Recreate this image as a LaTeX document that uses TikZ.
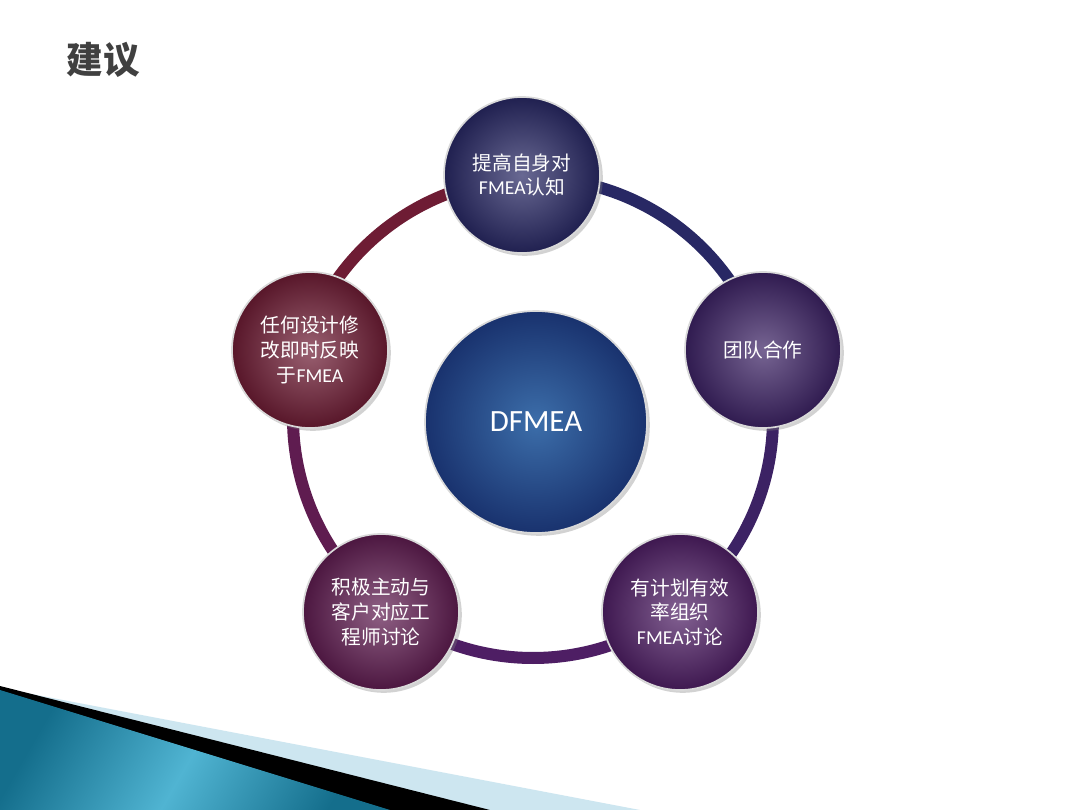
\documentclass[tikz,border=0pt]{standalone}
\usepackage{fontspec}
\setmainfont{Carlito}
\newfontfamily\cjk{Noto Sans CJK SC}
\usetikzlibrary{shadows}
\definecolor{rA}{RGB}{110,28,52}
\definecolor{rB}{RGB}{40,40,100}
\definecolor{rC}{RGB}{60,34,100}
\definecolor{rD}{RGB}{78,30,100}
\definecolor{rE}{RGB}{95,28,80}
\definecolor{tealD}{RGB}{20,110,140}
\definecolor{tealL}{RGB}{80,180,210}
\definecolor{paleB}{RGB}{205,230,240}
\begin{document}
\begin{tikzpicture}[x=0.025cm,y=-0.025cm,
  ball/.style={circle,minimum size=156*0.025cm,draw=white!85!black,line width=1.2pt,
    text=white,font=\cjk\fontsize{14}{17.5}\selectfont,align=center,
    drop shadow={opacity=0.35,shadow xshift=2pt,shadow yshift=-2pt}},
  ring/.style={line width=12*0.025cm}]
\useasboundingbox (0,0) rectangle (1080,810);
\fill[white] (0,0) rectangle (1080,810);
% bottom-left decoration
\fill[paleB] (0,688) -- (640,810) -- (0,810) -- cycle;
\fill[black] (0,686) -- (490,810) -- (0,810) -- cycle;
\shade[left color=tealD, right color=tealD, middle color=tealL, shading angle=60]
  (0,690) -- (390,810) -- (0,810) -- cycle;
% title
\node[font=\cjk\bfseries\fontsize{26}{30}\selectfont,text=black!75,anchor=west] (title) at (62,60) {建议};
% ring (y axis points down, so angles are mirrored)
\coordinate (c) at (533,418);
\draw[ring,color=rA] (c) ++(-160:240) arc (-160:-90:240);
\draw[ring,color=rB] (c) ++(-90:240) arc (-90:-20:240);
\draw[ring,color=rC] (c) ++(-20:240) arc (-20:50:240);
\draw[ring,color=rD] (c) ++(50:240) arc (50:130:240);
\draw[ring,color=rE] (c) ++(130:240) arc (130:200:240);
% nodes
\node[ball,inner color=rB!70!white,outer color=rB!80!black] (n1) at (522,175) {提高自身对\\{\fontspec{Carlito}FMEA}认知};
\node[ball,inner color=rC!70!white,outer color=rC!80!black] (n2) at (763,350) {团队合作};
\node[ball,inner color=rD!70!white,outer color=rD!80!black] (n3) at (680,612) {有计划有效\\率组织\\{\fontspec{Carlito}FMEA}讨论};
\node[ball,inner color=rE!70!white,outer color=rE!80!black] (n4) at (381,612) {积极主动与\\客户对应工\\程师讨论};
\node[ball,inner color=rA!70!white,outer color=rA!80!black] (n5) at (310,350) {任何设计修\\改即时反映\\于{\fontspec{Carlito}FMEA}};
\node[circle,minimum size=222*0.025cm,draw=white!85!black,line width=1.2pt,
  inner color={rgb,255:red,60;green,110;blue,170},outer color={rgb,255:red,25;green,50;blue,110},
  text=white,font=\fontsize{22}{26}\selectfont,
  drop shadow={opacity=0.35,shadow xshift=2pt,shadow yshift=-2pt}] (d) at (536,422) {DFMEA};
\end{tikzpicture}
\end{document}
